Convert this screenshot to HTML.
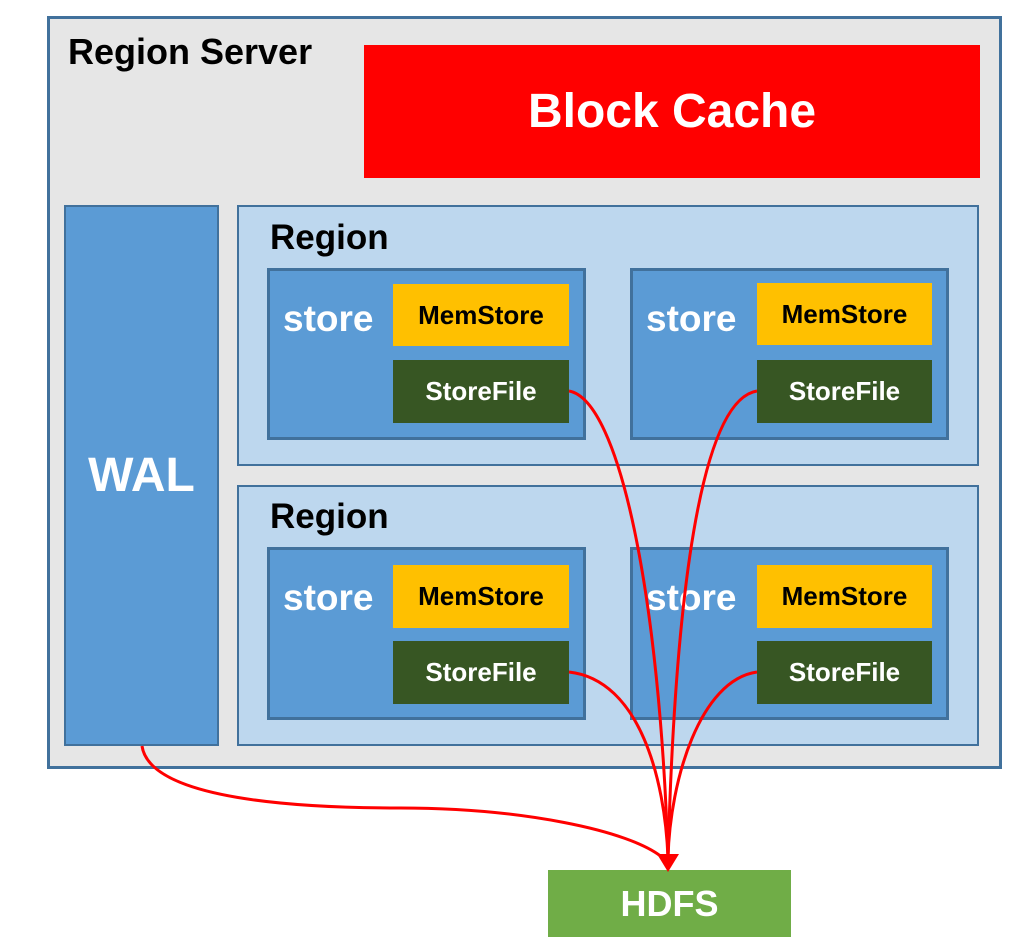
<!DOCTYPE html>
<html><head><style>
body{margin:0;width:1024px;height:942px;background:#fff;position:relative;overflow:hidden;font-family:"Liberation Sans",Arial,sans-serif;font-weight:bold}
div{position:absolute;box-sizing:border-box}
.c{display:flex;align-items:center;justify-content:center}
.st{background:#5b9bd5;border:3px solid #41719c}
.rg{background:#bdd7ee;border:2px solid #41719c}
.m{background:#ffc000;color:#000;font-size:26px}
.f{background:#375623;color:#fff;font-size:26px}
.sl{color:#fff;font-size:37px}
.rl{font-size:35px;color:#000}
</style></head><body>
<div style="left:47px;top:16px;width:955px;height:753px;background:#e6e6e6;border:3px solid #41719c"></div>
<div style="left:68px;top:31px;font-size:36px">Region Server</div>
<div class="c" style="left:364px;top:45px;width:616px;height:133px;background:#f00;color:#fff;font-size:48px">Block Cache</div>
<div class="c" style="left:64px;top:205px;width:155px;height:541px;background:#5b9bd5;border:2px solid #41719c;color:#fff;font-size:48px">WAL</div>

<div class="rg" style="left:237px;top:205px;width:742px;height:261px"></div>
<div class="rl" style="left:270px;top:218px">Region</div>
<div class="st" style="left:267px;top:268px;width:319px;height:172px"></div>
<div class="sl" style="left:283px;top:298px">store</div>
<div class="c m" style="left:393px;top:284px;width:176px;height:62px">MemStore</div>
<div class="c f" style="left:393px;top:360px;width:176px;height:63px">StoreFile</div>
<div class="st" style="left:630px;top:268px;width:319px;height:172px"></div>
<div class="sl" style="left:646px;top:298px">store</div>
<div class="c m" style="left:757px;top:283px;width:175px;height:62px">MemStore</div>
<div class="c f" style="left:757px;top:360px;width:175px;height:63px">StoreFile</div>

<div class="rg" style="left:237px;top:485px;width:742px;height:261px"></div>
<div class="rl" style="left:270px;top:497px">Region</div>
<div class="st" style="left:267px;top:547px;width:319px;height:173px"></div>
<div class="sl" style="left:283px;top:577px">store</div>
<div class="c m" style="left:393px;top:565px;width:176px;height:63px">MemStore</div>
<div class="c f" style="left:393px;top:641px;width:176px;height:63px">StoreFile</div>
<div class="st" style="left:630px;top:547px;width:319px;height:173px"></div>
<div class="sl" style="left:646px;top:577px">store</div>
<div class="c m" style="left:757px;top:565px;width:175px;height:63px">MemStore</div>
<div class="c f" style="left:757px;top:641px;width:175px;height:63px">StoreFile</div>

<div class="c" style="left:548px;top:870px;width:243px;height:67px;background:#70ad47;color:#fff;font-size:36px">HDFS</div>

<svg style="position:absolute;left:0;top:0" width="1024" height="942">
<g fill="none" stroke="#f00" stroke-width="3">
<path d="M569 391 C620 400 660 600 668 858"/>
<path d="M757 391 C700 400 675 600 668 858"/>
<path d="M569 672 C640 680 665 780 668 858"/>
<path d="M757 672 C700 680 670 780 668 858"/>
<path d="M142 746 C150 800 300 808 400 808 C520 808 630 830 663 858"/>
</g>
<polygon points="657,854 679,854 668,872" fill="#f00"/>
</svg>
</body></html>
